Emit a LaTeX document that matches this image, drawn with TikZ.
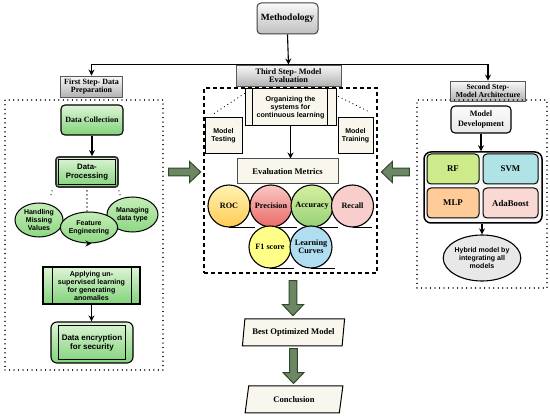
\documentclass[tikz,border=0pt]{standalone}
\usepackage{fontspec}
\setmainfont{Liberation Serif}
\newfontfamily\ari{Liberation Sans}
\usetikzlibrary{shapes.geometric,arrows.meta,calc}
\definecolor{gTop}{HTML}{DDF5D6}
\definecolor{gBot}{HTML}{82D27A}
\definecolor{eTop}{HTML}{C4EDB8}
\definecolor{eBot}{HTML}{8ED883}
\definecolor{cream}{HTML}{F9F7ED}
\definecolor{arrFill}{HTML}{6D8764}
\definecolor{arrDraw}{HTML}{2F4A2A}
\definecolor{cRF}{HTML}{CDEB8B}
\definecolor{cSVM}{HTML}{B0E3E6}
\definecolor{cMLP}{HTML}{FFCC99}
\definecolor{cADA}{HTML}{FAD9D5}
\definecolor{rocT}{HTML}{FFF2B3}
\definecolor{rocB}{HTML}{FFCC55}
\definecolor{preT}{HTML}{F9C8C6}
\definecolor{preB}{HTML}{E96A66}
\definecolor{accT}{HTML}{D6F0A0}
\definecolor{accB}{HTML}{97D077}
\definecolor{recC}{HTML}{F8CECC}
\definecolor{fC}{HTML}{FFFF88}
\definecolor{lcC}{HTML}{B1DDF0}
\tikzset{
  conn/.style={line width=1.1pt, -{Stealth[length=6pt,width=6pt]}},
  serb/.style={font={\pgfmathsetmacro\bls{#1*1.13}\bfseries\fontsize{#1}{\bls}\selectfont}},
  sanb/.style={font={\pgfmathsetmacro\bls{#1*1.13}\ari\bfseries\fontsize{#1}{\bls}\selectfont}},
  steplbl/.style={draw=gray!70!black, line width=0.9pt, top color=gray!5, bottom color=gray!60, inner sep=0pt, align=center, serb=8.3},
  greenbox/.style={draw=black, line width=1.1pt, top color=gTop, bottom color=gBot, inner sep=0pt, align=center},
  greenell/.style={ellipse, draw=black, line width=1pt, top color=eTop, bottom color=eBot, inner sep=0pt, align=center, sanb=7},
  creambox/.style={draw=black, line width=1pt, fill=cream, inner sep=0pt, align=center},
  metric/.style={circle, draw=black, line width=1.1pt, minimum size=42pt, inner sep=0pt, align=center, serb=8.2},
  model/.style={draw=black, line width=1pt, rounded corners=4pt, minimum width=#1, minimum height=30pt, inner sep=0pt, serb=8.8},
  dotbox/.style={draw=black, line width=1.3pt, dash pattern=on 0.01pt off 4.5pt, line cap=round},
  dashbox/.style={draw=black, line width=1.3pt, dash pattern=on 4pt off 3pt},
  dotline/.style={draw=black, line width=1.3pt, dash pattern=on 0.01pt off 4pt, line cap=round},
  para/.style={trapezium, trapezium left angle=75, trapezium right angle=105, trapezium stretches=true, draw=black, line width=1pt, fill=cream, inner sep=0pt, serb=8.6},
  tail/.style={line width=1.1pt},
  pics/fatarr/.style={code={\filldraw[fill=arrFill, draw=arrDraw, line width=1pt] (0,-3.8) -- (#1-11,-3.8) -- (#1-11,-10.5) -- (#1,0) -- (#1-11,10.5) -- (#1-11,3.8) -- (0,3.8) -- cycle;}}
}
\begin{document}
\begin{tikzpicture}[x=1pt,y=-1pt]
\useasboundingbox (0,0) rectangle (550,417);
% top
\node[draw=gray!50!black, line width=1pt, rounded corners=4pt, top color=gray!5, bottom color=gray!50, minimum width=61pt, minimum height=31pt, inner sep=0pt, serb=9.5] (meth) at (287.5,18.5) {Methodology};
\node[steplbl, minimum width=105pt, minimum height=21pt] (third) at (288.5,75.5) {Third Step- Model\\[-1pt]Evaluation};
\node[steplbl, minimum width=62pt, minimum height=21pt, serb=8] (first) at (91.5,86.5) {First Step- Data\\[-1pt]Preparation};
\node[steplbl, minimum width=75pt, minimum height=20pt, serb=7.7] (second) at (488,91) {Second Step-\\[-1pt]Model Architecture};
\draw[conn] (meth.south) -- (third.north);
\draw[conn] (third.north) -| (first.north);
\draw[conn] (third.north) -| (second.north);
% left part
\node[dotbox, minimum width=158pt, minimum height=270pt] (leftbox) at (84,235) {};
\node[greenbox, rounded corners=4pt, minimum width=62pt, minimum height=30pt, serb=8] (dc) at (92,120) {Data Collection};
\node[draw=black!80, line width=1.8pt, rounded corners=3pt, top color=gTop, bottom color=gBot, minimum width=62pt, minimum height=30pt, inner sep=0pt, align=center, sanb=7.8] (dp) at (87,172) {Data-\\Processing};
\draw[line width=1pt] ($(dp.north west)+(3,3)$) rectangle ($(dp.south east)+(-3,-3)$);
\draw[conn] (dc.south) -- (dc.south |- dp.north);
\node[greenell, minimum width=48pt, minimum height=34pt] (hmv) at (39,220) {Handling\\Missing\\Values};
\node[greenell, minimum width=51pt, minimum height=35pt] (mdt) at (132.5,214.5) {Managing\\data type};
\node[greenell, minimum width=52pt, minimum height=31pt] (fe) at (89,227.5) {Feature\\Engineering};
\draw[dotline] ($(dp.south west)+(-3,3)$) -- ($(hmv.north)+(11,-4)$);
\draw[dotline] ($(dp.south)+(0,3)$) -- (dp.south |- fe.north);
\draw[dotline] ($(dp.south east)+(0,3)$) -- ($(mdt.north)+(-12,0)$);
\node[greenbox, minimum width=97pt, minimum height=37pt, sanb=7.1] (app) at (91.5,285.5) {Applying un-\\supervised learning\\for generating\\anomalies};
\draw[line width=1.1pt] ($(app.north west)+(10,0)$) -- ($(app.south west)+(10,0)$);
\draw[line width=1.1pt] ($(app.north east)+(-9,0)$) -- ($(app.south east)+(-9,0)$);
\draw[conn] (fe.south) -- (fe.south -| app.north);
\node[greenbox, rounded corners=6pt, minimum width=82pt, minimum height=41pt, sanb=8] (enc) at (92,342.5) {Data encryption\\for security};
\draw[line width=1.1pt] ($(enc.north west)+(8,4)$) rectangle ($(enc.south east)+(-8,-4)$);
\draw[conn] (app.south) -- (app.south |- enc.north);
% middle
\node[dashbox, minimum width=173pt, minimum height=185pt] (mid) at (290.5,180.5) {};
\node[creambox, minimum width=91pt, minimum height=37pt, sanb=7.1] (org) at (290.5,107.5) {Organizing the\\systems for\\continuous learning};
\draw[line width=1pt] ($(org.north west)+(8,0)$) -- ($(org.south west)+(8,0)$);
\draw[line width=1pt] ($(org.north east)+(-9,0)$) -- ($(org.south east)+(-9,0)$);
\node[creambox, minimum width=37pt, minimum height=36pt, sanb=7] (test) at (223.5,136) {Model\\Testing};
\node[creambox, minimum width=35pt, minimum height=36pt, sanb=7] (train) at (355.5,136) {Model\\Training};
\draw[dotline] ($(org.north west)+(0,5)$) -- ($(test.north west)+(8,-3)$);
\draw[dotline] ($(org.north east)+(2,8)$) -- ($(train.north east)+(-5,-6)$);
\node[draw=gray!60!black, line width=1pt, fill=cream, minimum width=101pt, minimum height=25pt, inner sep=0pt, serb=8.6] (em) at (287.5,171.5) {Evaluation Metrics};
\draw[conn] (org.south) -- (org.south |- em.north);
\node[metric, top color=rocT, bottom color=rocB] (roc) at (229,206) {ROC};
\draw[tail] (roc.south) -- ++(26,0);
\node[metric, top color=preT, bottom color=preB] (prec) at (271,206) {Precision};
\draw[tail] (prec.south) -- ++(26,0);
\node[metric, top color=accT, bottom color=accB] (acc) at (312,206) {Accuracy};
\draw[tail] (acc.south) -- ++(26,0);
\node[metric, fill=recC] (rec) at (352.5,206) {Recall};
\draw[tail] (rec.south) -- ++(19,0);
\node[metric, fill=fC] (f1) at (270,247) {F1 score};
\draw[tail] (f1.south) -- ++(24,0);
\node[metric, fill=lcC] (lc) at (311,247) {Learning\\[-1pt]Curves};
\draw[tail] (lc.south) -- ++(24,0);
% right part
\node[dotbox, minimum width=130pt, minimum height=188pt] (rightbox) at (482,194) {};
\node[draw=black, line width=1.1pt, rounded corners=4pt, top color=gray!3, bottom color=gray!18, minimum width=60pt, minimum height=27pt, inner sep=0pt, align=center, serb=8.2] (md) at (481,119.5) {Model\\Development};
\node[draw=black, line width=1.5pt, rounded corners=7pt, fill=gray!6, minimum width=118pt, minimum height=71pt, inner sep=0pt] (cont) at (483,187.5) {};
\node[model=52pt, fill=cRF] (rf) at (453,169) {RF};
\node[model=55pt, fill=cSVM] (svm) at (510.5,169) {SVM};
\node[model=52pt, fill=cMLP] (mlp) at (453,203) {MLP};
\node[model=55pt, fill=cADA] (ada) at (510.5,203) {AdaBoost};
\draw[conn] (md.south) -- (md.south |- cont.north);
\node[ellipse, draw=black, line width=1.1pt, fill=gray!18, minimum width=62pt, minimum height=46pt, inner sep=0pt, align=center, sanb=7] (hyb) at (482,258) {Hybrid model by\\integrating all\\models};
\draw[conn] (cont.south -| hyb.north) -- (hyb.north);
% bottom
\node[para, minimum width=103pt, minimum height=27pt] (best) at (293.5,332.5) {Best Optimized Model};
\node[para, minimum width=98pt, minimum height=27pt] (concl) at (294,399.5) {Conclusion};
% fat arrows
\pic at ($(leftbox.east |- dp)+(5,0)$) {fatarr=32};
\pic[rotate=180] at ($(rightbox.west |- dp)+(-7,0)$) {fatarr=28};
\pic[rotate=-90] at ($(mid.south)+(2.5,7)$) {fatarr=35};
\pic[rotate=-90] at ($(best.south)+(0,2)$) {fatarr=35};
\end{tikzpicture}
\end{document}
